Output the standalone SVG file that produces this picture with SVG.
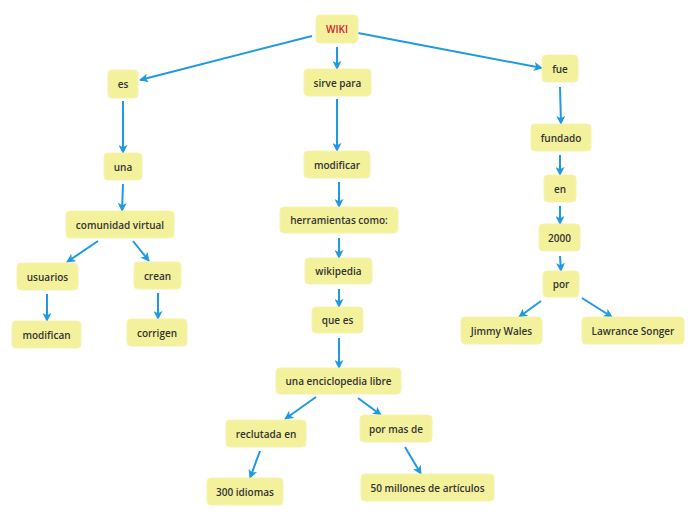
<svg xmlns="http://www.w3.org/2000/svg" width="696" height="520" viewBox="0 0 696 520">
<defs>
<style>
.n rect{fill:#f4f19c;stroke:#f6f3b0;stroke-width:1}
.n text{font-family:"Open Sans","Noto Sans",sans-serif;font-size:10px;font-weight:600;fill:#333;text-anchor:middle;dominant-baseline:central}
.e line{stroke:#1f9ae0;stroke-width:2;marker-end:url(#ah)}
</style>
<marker id="ah" viewBox="0 0 10 10" refX="9" refY="5" markerWidth="4.5" markerHeight="4.5" orient="auto" markerUnits="strokeWidth">
<path d="M0,0 L10,5 L0,10 L2.5,5 Z" fill="#1f9ae0"/>
</marker>
</defs>
<rect width="696" height="520" fill="#fff"/>
<g id="connectors" class="e">
<line x1="312" y1="36" x2="140" y2="80"/>
<line x1="337" y1="47" x2="337" y2="69"/>
<line x1="358" y1="33" x2="542" y2="68"/>
<line x1="123" y1="101" x2="123" y2="153"/>
<line x1="337" y1="99" x2="337" y2="151"/>
<line x1="560" y1="87" x2="561" y2="124"/>
<line x1="560" y1="155" x2="560" y2="175"/>
<line x1="560" y1="206" x2="560" y2="224"/>
<line x1="560" y1="256" x2="561" y2="271"/>
<line x1="541" y1="301" x2="519" y2="317"/>
<line x1="582" y1="298" x2="612" y2="317"/>
<line x1="123" y1="184" x2="122" y2="211"/>
<line x1="98" y1="241" x2="67" y2="262"/>
<line x1="133" y1="241" x2="149" y2="261"/>
<line x1="47" y1="294" x2="47" y2="321"/>
<line x1="158" y1="293" x2="158" y2="319"/>
<line x1="339" y1="182" x2="339" y2="207"/>
<line x1="339" y1="238" x2="339" y2="258"/>
<line x1="339" y1="289" x2="339" y2="307"/>
<line x1="339" y1="338" x2="339" y2="368"/>
<line x1="316" y1="397" x2="285" y2="419"/>
<line x1="358" y1="398" x2="381" y2="415"/>
<line x1="260" y1="451" x2="250" y2="478"/>
<line x1="405" y1="447" x2="421" y2="474"/>
</g>
<g id="wiki" class="n"><rect x="316" y="15" width="42" height="28" rx="4"/><text x="337" y="29" style="fill:#cf2038">WIKI</text></g>
<g id="es" class="n"><rect x="108" y="70" width="30" height="28" rx="4"/><text x="123" y="84">es</text></g>
<g id="sirve" class="n"><rect x="304" y="69" width="67" height="27" rx="4"/><text x="337.5" y="82.5">sirve para</text></g>
<g id="fue" class="n"><rect x="542" y="55" width="36" height="27" rx="4"/><text x="560" y="69">fue</text></g>
<g id="una" class="n"><rect x="104" y="153" width="38" height="27" rx="4"/><text x="123" y="167">una</text></g>
<g id="modificar" class="n"><rect x="304" y="151" width="66" height="27" rx="4"/><text x="337" y="164.5">modificar</text></g>
<g id="fundado" class="n"><rect x="531" y="124" width="60" height="27" rx="4"/><text x="561" y="137.5">fundado</text></g>
<g id="en" class="n"><rect x="544" y="175" width="32" height="27" rx="4"/><text x="560" y="188.5">en</text></g>
<g id="y2000" class="n"><rect x="539" y="224" width="41" height="27" rx="4"/><text x="559.5" y="238">2000</text></g>
<g id="por" class="n"><rect x="543" y="271" width="36" height="26" rx="4"/><text x="561" y="284">por</text></g>
<g id="jimmy" class="n"><rect x="461" y="317" width="81" height="27" rx="4"/><text x="501.5" y="331">Jimmy Wales</text></g>
<g id="lawrance" class="n"><rect x="582" y="317" width="102" height="27" rx="4"/><text x="633" y="330.5">Lawrance Songer</text></g>
<g id="comunidad" class="n"><rect x="66" y="211" width="108" height="27" rx="4"/><text x="120" y="224.5">comunidad virtual</text></g>
<g id="usuarios" class="n"><rect x="17" y="263" width="61" height="27" rx="4"/><text x="47.5" y="276.5">usuarios</text></g>
<g id="crean" class="n"><rect x="134" y="262" width="47" height="27" rx="4"/><text x="157.5" y="275.5">crean</text></g>
<g id="modifican" class="n"><rect x="12" y="321" width="69" height="27" rx="4"/><text x="46.5" y="335">modifican</text></g>
<g id="corrigen" class="n"><rect x="127" y="319" width="60" height="27" rx="4"/><text x="157" y="333">corrigen</text></g>
<g id="herramientas" class="n"><rect x="280" y="207" width="118" height="26" rx="4"/><text x="339" y="220">herramientas como:</text></g>
<g id="wikipedia" class="n"><rect x="305" y="258" width="67" height="26" rx="4"/><text x="338.5" y="271">wikipedia</text></g>
<g id="quees" class="n"><rect x="312" y="307" width="51" height="26" rx="4"/><text x="337.5" y="320">que es</text></g>
<g id="enciclopedia" class="n"><rect x="276" y="368" width="125" height="26" rx="4"/><text x="338.5" y="381">una enciclopedia libre</text></g>
<g id="reclutada" class="n"><rect x="226" y="420" width="80" height="27" rx="4"/><text x="266" y="433.5">reclutada en</text></g>
<g id="pormasde" class="n"><rect x="360" y="415" width="72" height="27" rx="4"/><text x="396" y="428.5">por mas de</text></g>
<g id="idiomas" class="n"><rect x="207" y="478" width="76" height="27" rx="4"/><text x="245" y="491.5">300 idiomas</text></g>
<g id="millones" class="n"><rect x="361" y="474" width="133" height="27" rx="4"/><text x="427.5" y="487.5">50 millones de artículos</text></g>
</svg>
